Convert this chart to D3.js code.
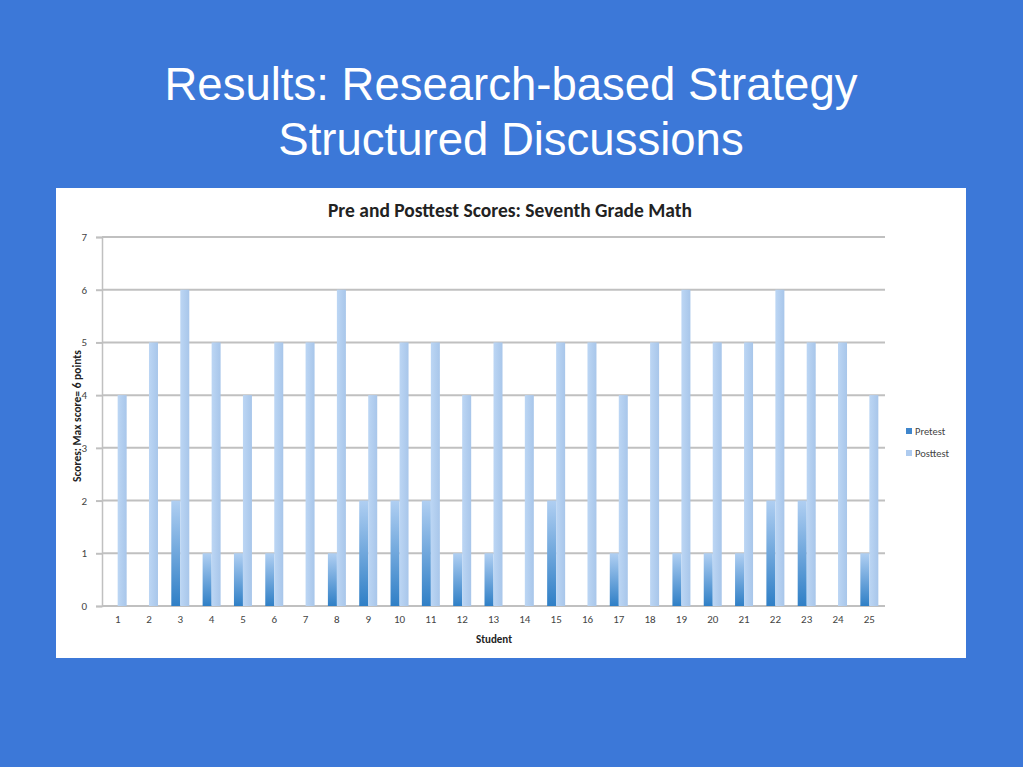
<!DOCTYPE html>
<html>
<head>
<meta charset="utf-8">
<script src="https://cdn.jsdelivr.net/npm/d3@7"></script>
<style>
  html, body { margin: 0; padding: 0; background: #3c78d8; }
  svg { display: block; }
</style>
</head>
<body>
<div id="chart"></div>
<script>
// students along the x axis
const students = d3.range(1, 26).map(String);
// scores
const pretest  = [0,0,2,1,1,1,0,1,2,2,2,1,1,0,2,0,1,0,1,1,1,2,2,0,1];
const posttest = [4,5,6,5,4,5,5,6,4,5,5,4,5,4,5,5,4,5,6,5,5,6,5,5,4];
const series = ['Pretest', 'Posttest'];
const yTicks = [0,1,2,3,4,5,6,7];

const W = 1023, H = 767;
const svg = d3.select('#chart').append('svg').attr('width', W).attr('height', H);

svg.append('rect').attr('width', W).attr('height', H).attr('fill', '#3c78d8');

// slide heading
const heading = svg.append('g')
  .attr('font-family', '"Liberation Sans", Arial, sans-serif')
  .attr('font-size', 45.5).attr('fill', '#fff').attr('text-anchor', 'middle');
heading.append('text').attr('x', 511).attr('y', 100).text('Results: Research-based Strategy');
heading.append('text').attr('x', 511).attr('y', 155).text('Structured Discussions');

// gradients
const defs = svg.append('defs');
const gPre = defs.append('linearGradient').attr('id', 'gPre')
  .attr('x1', 0).attr('y1', 0).attr('x2', 0).attr('y2', 1);
gPre.append('stop').attr('offset', '0%').attr('stop-color', '#b0cff2');
gPre.append('stop').attr('offset', '100%').attr('stop-color', '#2f7fc6');
const gPost = defs.append('linearGradient').attr('id', 'gPost')
  .attr('x1', 0).attr('y1', 0).attr('x2', 1).attr('y2', 0);
gPost.append('stop').attr('offset', '0%').attr('stop-color', '#bcd6f4');
gPost.append('stop').attr('offset', '100%').attr('stop-color', '#a8c6ea');

// white chart box
svg.append('rect').attr('x', 56).attr('y', 188).attr('width', 910).attr('height', 470).attr('fill', '#fff');

const font = 'Carlito, Calibri, "Open Sans", "DejaVu Sans", sans-serif';
svg.append('text').attr('x', 510).attr('y', 217).attr('text-anchor', 'middle')
  .attr('font-family', font).attr('font-weight', 'bold').attr('font-size', 19.5).attr('fill', '#222')
  .text('Pre and Posttest Scores: Seventh Grade Math');

const x = d3.scaleBand().domain(students).range([102, 885]);
const xs = d3.scaleBand().domain(series).range([0, 18]);
const y = d3.scaleLinear().domain([0, 7]).range([606, 237]);

// gridlines + ticks
const yAxis = svg.append('g').attr('transform', 'translate(102,0)')
  .call(d3.axisLeft(y).tickValues(yTicks).tickSize(6).tickPadding(9).tickFormat(d3.format('d')));
yAxis.select('.domain').attr('stroke', '#c0c0c0').attr('stroke-width', 1.5);
yAxis.selectAll('.tick line').attr('stroke', '#c0c0c0').attr('stroke-width', 2);
yAxis.selectAll('.tick text').attr('font-family', font).attr('font-size', 11).attr('fill', '#444');
svg.append('g').selectAll('line').data(yTicks).join('line')
  .attr('x1', 102).attr('x2', 885).attr('y1', d => y(d)).attr('y2', d => y(d))
  .attr('stroke', '#c0c0c0').attr('stroke-width', 2);

// bars
const data = students.map((s, i) => ({ s, vals: [pretest[i], posttest[i]] }));
const grp = svg.append('g').selectAll('g').data(data).join('g')
  .attr('transform', d => `translate(${x(d.s) + x.bandwidth() / 2 - 9},0)`);
grp.selectAll('rect').data(d => d.vals.map((v, k) => ({ v, k: series[k] }))).join('rect')
  .attr('x', d => xs(d.k)).attr('width', xs.bandwidth())
  .attr('y', d => y(d.v)).attr('height', d => y(0) - y(d.v))
  .attr('fill', d => d.k === 'Pretest' ? 'url(#gPre)' : 'url(#gPost)');

// x labels
const xAxis = svg.append('g').attr('transform', 'translate(0,606)')
  .call(d3.axisBottom(x).tickSize(0).tickPadding(9));
xAxis.select('.domain').remove();
xAxis.selectAll('.tick text').attr('font-family', font).attr('font-size', 11).attr('fill', '#444');

svg.append('text').attr('x', 494).attr('y', 643).attr('text-anchor', 'middle')
  .attr('font-family', font).attr('font-weight', 'bold').attr('font-size', 11).attr('fill', '#222')
  .text('Student');
svg.append('text').attr('transform', 'translate(81,416) rotate(-90)').attr('text-anchor', 'middle')
  .attr('font-family', font).attr('font-weight', 'bold').attr('font-size', 11.5).attr('fill', '#222')
  .text('Scores: Max score= 6 points');

// legend
const leg = svg.append('g').selectAll('g').data(series).join('g')
  .attr('transform', (d, i) => `translate(906,${435 + i * 22})`);
leg.append('rect').attr('x', 0).attr('y', -7).attr('width', 6).attr('height', 6)
  .attr('fill', d => d === 'Pretest' ? '#3f86cc' : '#aecbef');
leg.append('text').attr('x', 9).attr('y', 0).attr('font-family', font).attr('font-size', 10.5).attr('fill', '#444')
  .text(d => d);
</script>
</body>
</html>
